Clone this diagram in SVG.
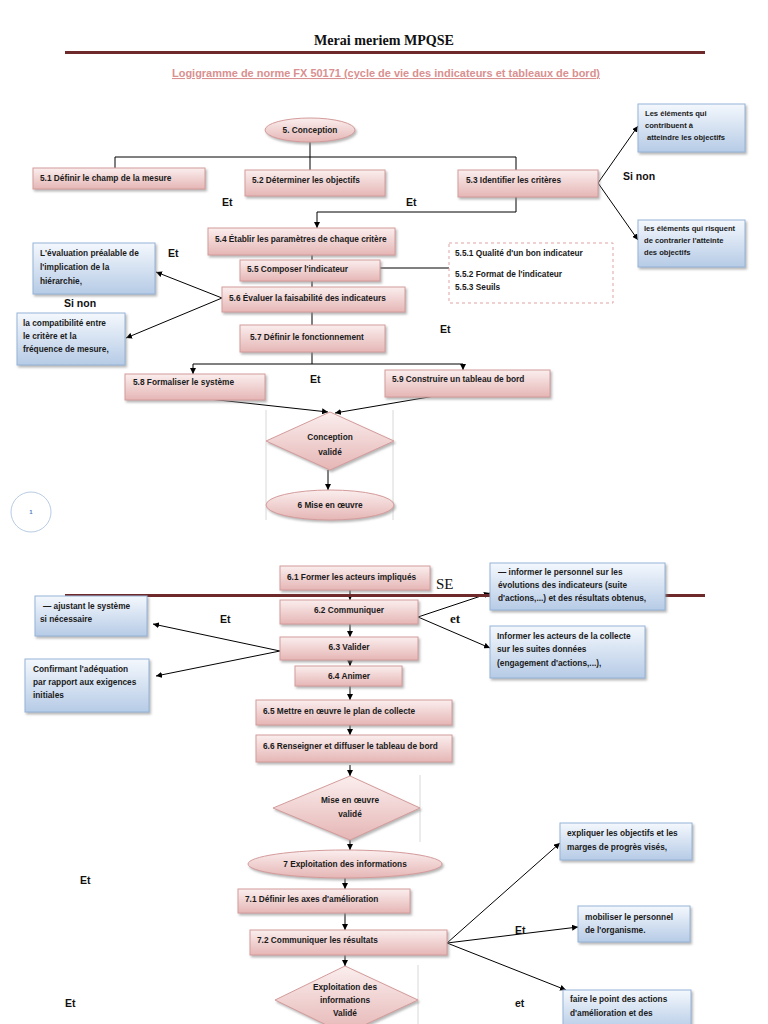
<svg xmlns="http://www.w3.org/2000/svg" width="768" height="1024" viewBox="0 0 768 1024">
<style>
.pk{fill:url(#gp);stroke:#d49b9b;stroke-width:1;filter:url(#sh)}
.bl{fill:url(#gb);stroke:#95b3d7;stroke-width:1;filter:url(#sh)}
.t{font-family:"Liberation Sans",Arial,sans-serif;font-size:8.3px;font-weight:bold;fill:#1a1a1a}
.s{font-size:7.6px}
.tm{text-anchor:middle}
.lab{font-family:"Liberation Sans",Arial,sans-serif;font-size:10.5px;font-weight:bold;fill:#111}
.c{stroke:#000;stroke-width:1;fill:none}
.a{marker-end:url(#ah)}
.f{stroke:#d8d8d8;stroke-width:1}
</style>
<defs>
<linearGradient id="gp" x1="0" y1="0" x2="0" y2="1"><stop offset="0" stop-color="#fbeeee"/><stop offset="1" stop-color="#e5b6b5"/></linearGradient>
<linearGradient id="gb" x1="0" y1="0" x2="0" y2="1"><stop offset="0" stop-color="#f4f8fd"/><stop offset="1" stop-color="#b6cbe6"/></linearGradient>
<filter id="sh" x="-10%" y="-10%" width="130%" height="140%"><feDropShadow dx="1.5" dy="2" stdDeviation="0.8" flood-color="#888" flood-opacity="0.6"/></filter>
<marker id="ah" markerWidth="6" markerHeight="6" refX="6" refY="3" orient="auto" markerUnits="userSpaceOnUse"><path d="M0,0 L6,3 L0,6 z" fill="#000"/></marker>
</defs>
<rect width="768" height="1024" fill="#fff"/>

<g id="header">
<text x="384" y="45" text-anchor="middle" font-family="Liberation Serif,serif" font-size="15" font-weight="bold" textLength="140" lengthAdjust="spacingAndGlyphs" fill="#111">Merai meriem MPQSE</text>
<rect x="65" y="51" width="640" height="3" fill="#6e2a2a"/>
<text x="386" y="77" text-anchor="middle" font-family="Liberation Sans,Arial,sans-serif" font-size="10.5" font-weight="bold" fill="#d99090" text-decoration="underline" textLength="428" lengthAdjust="spacingAndGlyphs">Logigramme de norme FX 50171 (cycle de vie des indicateurs et tableaux de bord)</text>
</g>

<g id="faint">
<line class="f" x1="266" y1="410" x2="266" y2="520"/>
<line class="f" x1="393" y1="410" x2="393" y2="520"/>
<line class="f" x1="420" y1="775" x2="420" y2="842"/>
<line class="f" x1="418" y1="965" x2="418" y2="1024"/>
</g>

<g id="connectors">
<path class="c" d="M310,142 V157 M115,157 H516 M115,157 V168 M310,157 V170 M516,157 V170"/>
<path class="c a" d="M516,197 V212 H317 V228"/>
<path class="c" d="M312,255 V260 M312,281 V287 M380,268 H449 M312,312 V325 M312,352 V364 M193,364 H463"/>
<path class="c a" d="M193,364 V374"/>
<path class="c a" d="M463,364 V370"/>
<line class="c a" x1="598" y1="183" x2="638" y2="126"/>
<line class="c a" x1="598" y1="183" x2="638" y2="240"/>
<line class="c a" x1="222" y1="298" x2="156" y2="272"/>
<line class="c a" x1="222" y1="298" x2="126" y2="338"/>
<line class="c a" x1="200" y1="398" x2="328" y2="412"/>
<line class="c a" x1="470" y1="390" x2="335" y2="413"/>
<line class="c a" x1="328" y1="470" x2="328" y2="490"/>
<line class="c a" x1="350" y1="590" x2="350" y2="600"/>
<line class="c a" x1="350" y1="624" x2="350" y2="637"/>
<line class="c a" x1="350" y1="660" x2="350" y2="666"/>
<line class="c a" x1="350" y1="686" x2="350" y2="700"/>
<line class="c a" x1="350" y1="725" x2="350" y2="735"/>
<line class="c a" x1="350" y1="765" x2="350" y2="776"/>
<line class="c a" x1="350" y1="840" x2="350" y2="850"/>
<line class="c a" x1="345" y1="878" x2="345" y2="889"/>
<line class="c a" x1="345" y1="913" x2="345" y2="930"/>
<line class="c a" x1="345" y1="955" x2="345" y2="966"/>
<line class="c a" x1="280" y1="651" x2="153" y2="624"/>
<line class="c a" x1="280" y1="651" x2="156" y2="676"/>
<line class="c a" x1="418" y1="617" x2="490" y2="593"/>
<line class="c a" x1="418" y1="617" x2="490" y2="648"/>
<line class="c a" x1="447" y1="943" x2="560" y2="843"/>
<line class="c a" x1="447" y1="943" x2="578" y2="927"/>
<line class="c a" x1="447" y1="943" x2="566" y2="990"/>
</g>

<g id="n5"><ellipse class="pk" cx="310" cy="130" rx="45" ry="12"/><text class="t tm" x="310" y="133">5. Conception</text></g>
<g id="n51"><rect class="pk" x="33" y="168" width="172" height="21"/><text class="t" x="40" y="181">5.1 Définir le champ de la mesure</text></g>
<g id="n52"><rect class="pk" x="245" y="170" width="140" height="26"/><text class="t" x="252" y="183">5.2 Déterminer les objectifs</text></g>
<g id="n53"><rect class="pk" x="458" y="170" width="140" height="27"/><text class="t" x="466" y="183">5.3 Identifier les critères</text></g>
<g id="n54"><rect class="pk" x="208" y="228" width="187" height="27"/><text class="t" x="215" y="242">5.4 Établir les paramètres de chaque critère</text></g>
<g id="n55"><rect class="pk" x="240" y="260" width="140" height="21"/><text class="t" x="247" y="272">5.5 Composer l'indicateur</text></g>
<g id="n56"><rect class="pk" x="222" y="287" width="183" height="25"/><text class="t" x="229" y="301">5.6 Évaluer la faisabilité des indicateurs</text></g>
<g id="n57"><rect class="pk" x="240" y="325" width="145" height="27"/><text class="t" x="250" y="340">5.7 Définir le fonctionnement</text></g>
<g id="n58"><rect class="pk" x="125" y="374" width="140" height="26"/><text class="t" x="133" y="385">5.8 Formaliser le système</text></g>
<g id="n59"><rect class="pk" x="385" y="370" width="165" height="27"/><text class="t" x="392" y="382">5.9 Construire un tableau de bord</text></g>
<g id="d1"><polygon class="pk" points="330,412 394,441 330,470 266,441"/><text class="t tm" x="330" y="440">Conception</text><text class="t tm" x="330" y="455">validé</text></g>
<g id="n6"><ellipse class="pk" cx="330" cy="505" rx="64" ry="15"/><text class="t tm" x="330" y="508">6 Mise en œuvre</text></g>

<g id="b1"><rect class="bl" x="638" y="104" width="107" height="48"/><text class="t s" x="645" y="116">Les éléments qui</text><text class="t s" x="645" y="128">contribuent à</text><text class="t s" x="647" y="140">atteindre les objectifs</text></g>
<g id="b2"><rect class="bl" x="638" y="220" width="107" height="47"/><text class="t s" x="644" y="231">les éléments qui risquent</text><text class="t s" x="644" y="243">de contrarier l'atteinte</text><text class="t s" x="644" y="255">des objectifs</text></g>
<g id="b3"><rect class="bl" x="33" y="243" width="122" height="51"/><text class="t" x="40" y="256">L'évaluation préalable de</text><text class="t" x="40" y="270">l'implication de la</text><text class="t" x="40" y="284">hiérarchie,</text></g>
<g id="b4"><rect class="bl" x="17" y="313" width="108" height="52"/><text class="t" x="23" y="326">la compatibilité entre</text><text class="t" x="23" y="339">le critère et la</text><text class="t" x="23" y="352">fréquence de mesure,</text></g>
<g id="dash"><rect x="449" y="243" width="164" height="60" fill="none" stroke="#e0a3a3" stroke-dasharray="3,3"/><text class="t" x="455" y="256">5.5.1 Qualité d'un bon indicateur</text><text class="t" x="455" y="277">5.5.2 Format de l'indicateur</text><text class="t" x="455" y="290">5.5.3 Seuils</text></g>

<g id="labels1">
<text class="lab" x="222" y="206">Et</text>
<text class="lab" x="406" y="206">Et</text>
<text class="lab" x="623" y="180">Si non</text>
<text class="lab" x="168" y="257">Et</text>
<text class="lab" x="64" y="307" font-size="12">Si non</text>
<text class="lab" x="440" y="333" font-size="8">Et</text>
<text class="lab" x="310" y="383">Et</text>
</g>
<g id="page"><circle cx="31" cy="512" r="20" fill="#fff" stroke="#b8cce4"/><text x="31" y="514" text-anchor="middle" font-family="Liberation Sans,Arial,sans-serif" font-size="6" font-weight="bold" fill="#4f81bd">1</text></g>

<g id="header2">
<rect x="65" y="594" width="640" height="3" fill="#6e2a2a"/>
<text x="436" y="589" font-family="Liberation Serif,serif" font-size="15" fill="#111">SE</text>
</g>

<g id="n61"><rect class="pk" x="280" y="566" width="150" height="24"/><text class="t" x="287" y="580">6.1 Former les acteurs impliqués</text></g>
<g id="n62"><rect class="pk" x="280" y="600" width="138" height="24"/><text class="t tm" x="349" y="613">6.2 Communiquer</text></g>
<g id="n63"><rect class="pk" x="280" y="637" width="138" height="23"/><text class="t tm" x="349" y="650">6.3 Valider</text></g>
<g id="n64"><rect class="pk" x="295" y="666" width="107" height="20"/><text class="t tm" x="349" y="679">6.4 Animer</text></g>
<g id="n65"><rect class="pk" x="256" y="700" width="196" height="25"/><text class="t" x="263" y="714">6.5 Mettre en œuvre le plan de collecte</text></g>
<g id="n66"><rect class="pk" x="256" y="735" width="196" height="27"/><text class="t" x="263" y="749">6.6 Renseigner et diffuser le tableau de bord</text></g>
<g id="d2"><polygon class="pk" points="350,776 420,808 350,840 273,808"/><text class="t tm" x="350" y="803">Mise en œuvre</text><text class="t tm" x="350" y="817">validé</text></g>
<g id="n7"><ellipse class="pk" cx="345" cy="864" rx="97" ry="14"/><text class="t tm" x="345" y="867">7 Exploitation des informations</text></g>
<g id="n71"><rect class="pk" x="238" y="889" width="172" height="24"/><text class="t" x="245" y="902">7.1 Définir les axes d'amélioration</text></g>
<g id="n72"><rect class="pk" x="250" y="930" width="197" height="25"/><text class="t" x="257" y="943">7.2 Communiquer les résultats</text></g>
<g id="d3"><polygon class="pk" points="345,966 418,1000 345,1034 275,1000"/><text class="t tm" x="345" y="990">Exploitation des</text><text class="t tm" x="345" y="1003">informations</text><text class="t tm" x="345" y="1016">Validé</text></g>

<g id="l1"><rect class="bl" x="35" y="596" width="112" height="40"/><text class="t" x="43" y="609">— ajustant le système</text><text class="t" x="40" y="622">si nécessaire</text></g>
<g id="l2"><rect class="bl" x="25" y="659" width="124" height="53"/><text class="t" x="33" y="672">Confirmant l'adéquation</text><text class="t" x="33" y="685">par rapport aux exigences</text><text class="t" x="33" y="698">initiales</text></g>
<g id="r1"><rect class="bl" x="490" y="563" width="175" height="47"/><text class="t" x="498" y="575">— informer le personnel sur les</text><text class="t" x="498" y="588">évolutions des indicateurs (suite</text><text class="t" x="498" y="601">d'actions,...) et des résultats obtenus,</text></g>
<g id="r2"><rect class="bl" x="490" y="626" width="155" height="52"/><text class="t" x="497" y="639">Informer les acteurs de la collecte</text><text class="t" x="497" y="652">sur les suites données</text><text class="t" x="497" y="666">(engagement d'actions,...),</text></g>
<g id="r3"><rect class="bl" x="560" y="823" width="132" height="37"/><text class="t" x="567" y="836">expliquer les objectifs et les</text><text class="t" x="567" y="850">marges de progrès visés,</text></g>
<g id="r4"><rect class="bl" x="578" y="906" width="112" height="36"/><text class="t" x="585" y="920">mobiliser le personnel</text><text class="t" x="585" y="933">de l'organisme.</text></g>
<g id="r5"><rect class="bl" x="563" y="990" width="128" height="40"/><text class="t" x="570" y="1002">faire le point des actions</text><text class="t" x="570" y="1016">d'amélioration et des</text></g>

<g id="labels2">
<text class="lab" x="220" y="623">Et</text>
<text x="450" y="623" font-family="Liberation Serif,serif" font-size="13" font-weight="bold" fill="#111">et</text>
<text class="lab" x="80" y="884">Et</text>
<text class="lab" x="515" y="934">Et</text>
<text class="lab" x="65" y="1007">Et</text>
<text class="lab" x="515" y="1007">et</text>
</g>
</svg>
